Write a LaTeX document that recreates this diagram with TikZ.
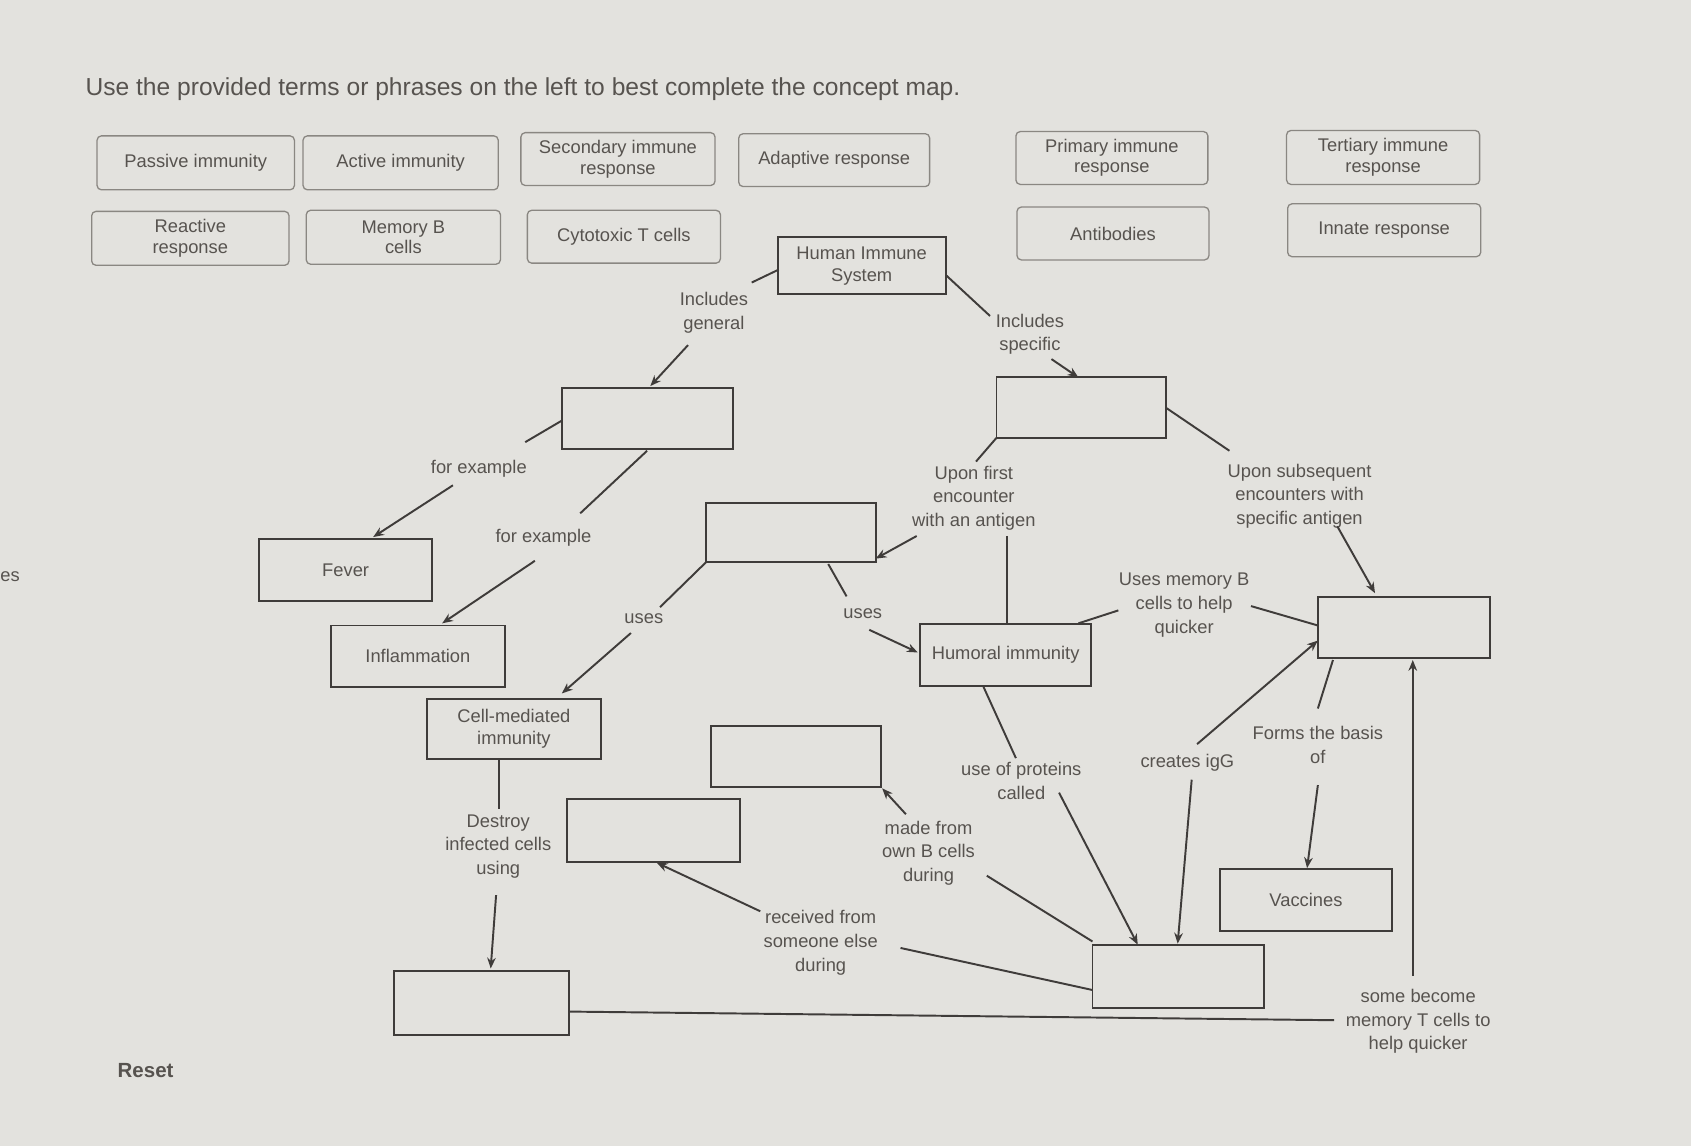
\documentclass[tikz,border=0pt]{standalone}
\usepackage{fontspec}
\setmainfont{Liberation Sans}
\usetikzlibrary{arrows.meta}
\definecolor{bg}{HTML}{E3E2DE}
\definecolor{ln}{HTML}{3F3C3A}
\definecolor{tx}{HTML}{57534F}
\definecolor{opt}{HTML}{8A8782}
\begin{document}
\begin{tikzpicture}[x=0.5pt,y=-0.5pt,
  opt/.style={draw=opt,rounded corners=2pt,line width=0.6pt,text=tx,align=center,font=\fontsize{8.5}{9.5}\selectfont},
  box/.style={draw=ln,line width=0.9pt,text=tx,align=center,font=\fontsize{8.5}{10}\selectfont},
  lab/.style={text=tx,align=center,font=\fontsize{8.5}{11}\selectfont,inner sep=0pt},
  con/.style={draw=ln,line width=0.9pt},
  arr/.style={con,-{Stealth[length=5pt,width=4pt]}}]
\fill[bg] (0,0) rectangle (1568,1063);
\useasboundingbox (0,0) rectangle (1568,1063);
\node[lab,anchor=west,font=\fontsize{11.4}{13}\selectfont] (title) at (79,83) {Use the provided terms or phrases on the left to best complete the concept map.};
% options
\newcommand{\optbox}[6]{\draw[opt] (#2,#3) rectangle (#4,#5); \node[opt,draw=none] (#1) at ({(#2+#4)/2},{(#3+#5)/2}) {#6};}
\optbox{o1}{90}{126}{273}{176}{Passive immunity}
\optbox{o2}{281}{126}{462}{176}{Active immunity}
\optbox{o3}{483}{123}{663}{172}{Secondary immune\\response}
\optbox{o4}{685}{124}{862}{173}{Adaptive response}
\optbox{o5}{942}{122}{1120}{171}{Primary immune\\response}
\optbox{o6}{1193}{121}{1372}{171}{Tertiary immune\\response}
\optbox{o7}{85}{196}{268}{246}{Reactive\\response}
\optbox{o8}{284}{195}{464}{245}{Memory B\\cells}
\optbox{o9}{489}{195}{668}{244}{Cytotoxic T cells}
\optbox{o10}{943}{192}{1121}{241}{Antibodies}
\optbox{o11}{1194}{189}{1373}{238}{Innate response}
% map boxes
\newcommand{\mapbox}[6]{\node[box,minimum width={(#4-#2)*0.5pt},minimum height={(#5-#3)*0.5pt}] (#1) at ({(#2+#4)/2},{(#3+#5)/2}) {#6};}
\mapbox{his}{721}{220}{877}{273}{Human Immune\\System}
\mapbox{gen}{521}{360}{680}{416}{}
\mapbox{spec}{924}{350}{1081}{406}{}
\mapbox{fever}{240}{500}{401}{557}{Fever}
\mapbox{infl}{307}{580}{468}{637}{Inflammation}
\mapbox{mid}{655}{466}{812}{521}{}
\mapbox{hum}{853}{579}{1012}{636}{Humoral immunity}
\mapbox{rb}{1222}{554}{1382}{610}{}
\mapbox{cell}{396}{648}{557}{704}{Cell-mediated\\immunity}
\mapbox{b1}{659}{673}{817}{730}{}
\mapbox{b2}{526}{741}{686}{799}{}
\mapbox{vac}{1131}{806}{1291}{863}{Vaccines}
\mapbox{bb}{1013}{876}{1172}{935}{}
\mapbox{bl}{365}{900}{528}{960}{}
% labels
\node[lab] (l1) at (662,290) {Includes\\general};
\node[lab] (l2) at (955,310) {Includes\\specific};
\node[lab] (l3) at (444,435) {for example};
\node[lab] (l4) at (504,499) {for example};
\node[lab] (l5) at (903,462) {Upon first\\encounter\\with an antigen};
\node[lab] (l6) at (1205,460) {Upon subsequent\\encounters with\\specific antigen};
\node[lab] (l7) at (597,574) {uses};
\node[lab] (l8) at (800,569) {uses};
\node[lab] (l9) at (1098,561) {Uses memory B\\cells to help\\quicker};
\node[lab] (l10) at (1222,691) {Forms the basis\\of};
\node[lab] (l11) at (1101,707) {creates igG};
\node[lab] (l12) at (947,724) {use of proteins\\called};
\node[lab] (l13) at (861,791) {made from\\own B cells\\during};
\node[lab] (l14) at (761,874) {received from\\someone else\\during};
\node[lab] (l15) at (462,785) {Destroy\\infected cells\\using};
\node[lab] (l16) at (1315,947) {some become\\memory T cells to\\help quicker};
\node[lab,font=\fontsize{9.5}{11}\selectfont\bfseries] (reset) at (135,993) {Reset};
\node[lab,anchor=west] (es) at (0,535) {es};
% connector endpoints
\coordinate (c1a) at (697,262); \coordinate (c1b) at (638,320);
\coordinate (c2a) at (918,293); \coordinate (c2b) at (975,333);
\coordinate (c3a) at (487,410); \coordinate (c3b) at (420,450);
\coordinate (c4a) at (538,476); \coordinate (c4b) at (496,520);
\coordinate (c5a) at (612,563); \coordinate (c5b) at (585,587);
\coordinate (c6a) at (785,553); \coordinate (c6b) at (806,584);
\coordinate (c7a) at (905,428); \coordinate (c7b) at (850,497); \coordinate (c7c) at (934,497);
\coordinate (c8a) at (1140,418); \coordinate (c8b) at (1240,488);
\coordinate (c9a) at (1037,566); \coordinate (c9b) at (1160,562);
\coordinate (c10a) at (1222,657); \coordinate (c10b) at (1222,728);
\coordinate (c11a) at (1110,690); \coordinate (c11b) at (1105,723);
\coordinate (c12a) at (942,703); \coordinate (c12b) at (982,735);
\coordinate (c13a) at (915,812); \coordinate (c13b) at (840,755);
\coordinate (c14a) at (835,879); \coordinate (c14b) at (705,845);
\coordinate (c15a) at (463,750); \coordinate (c15b) at (460,830);
\coordinate (c16a) at (1237,946); \coordinate (c16b) at (1310,905);
% connectors
\draw[con] (722,250) -- (c1a); \draw[arr] (c1b) -- (603,358);
\draw[con] (877,255) -- (c2a); \draw[arr] (c2b) -- (1000,350);
\draw[con] (521,390) -- (c3a); \draw[arr] (c3b) -- (346,498);
\draw[con] (600,418) -- (c4a); \draw[arr] (c4b) -- (410,578);
\draw[con] (655,521) -- (c5a); \draw[arr] (c5b) -- (521,643);
\draw[con] (768,523) -- (c6a); \draw[arr] (c6b) -- (851,605);
\draw[con] (924,406) -- (c7a); \draw[arr] (c7b) -- (812,518); \draw[con] (c7c) -- (934,578);
\draw[con] (1081,378) -- (c8a); \draw[arr] (c8b) -- (1275,550);
\draw[con] (1000,578) -- (c9a); \draw[con] (c9b) -- (1222,580);
\draw[con] (1236,612) -- (c10a); \draw[arr] (c10b) -- (1212,805);
\draw[arr] (c11a) -- (1222,594); \draw[arr] (c11b) -- (1092,875);
\draw[con] (912,637) -- (c12a); \draw[arr] (c12b) -- (1055,876);
\draw[con] (1013,873) -- (c13a); \draw[arr] (c13b) -- (818,731);
\draw[con] (1013,918) -- (c14a); \draw[arr] (c14b) -- (609,800);
\draw[con] (463,704) -- (c15a); \draw[arr] (c15b) -- (455,898);
\draw[con] (528,938) -- (c16a); \draw[arr] (c16b) -- (1310,612);
\end{tikzpicture}
\end{document}
